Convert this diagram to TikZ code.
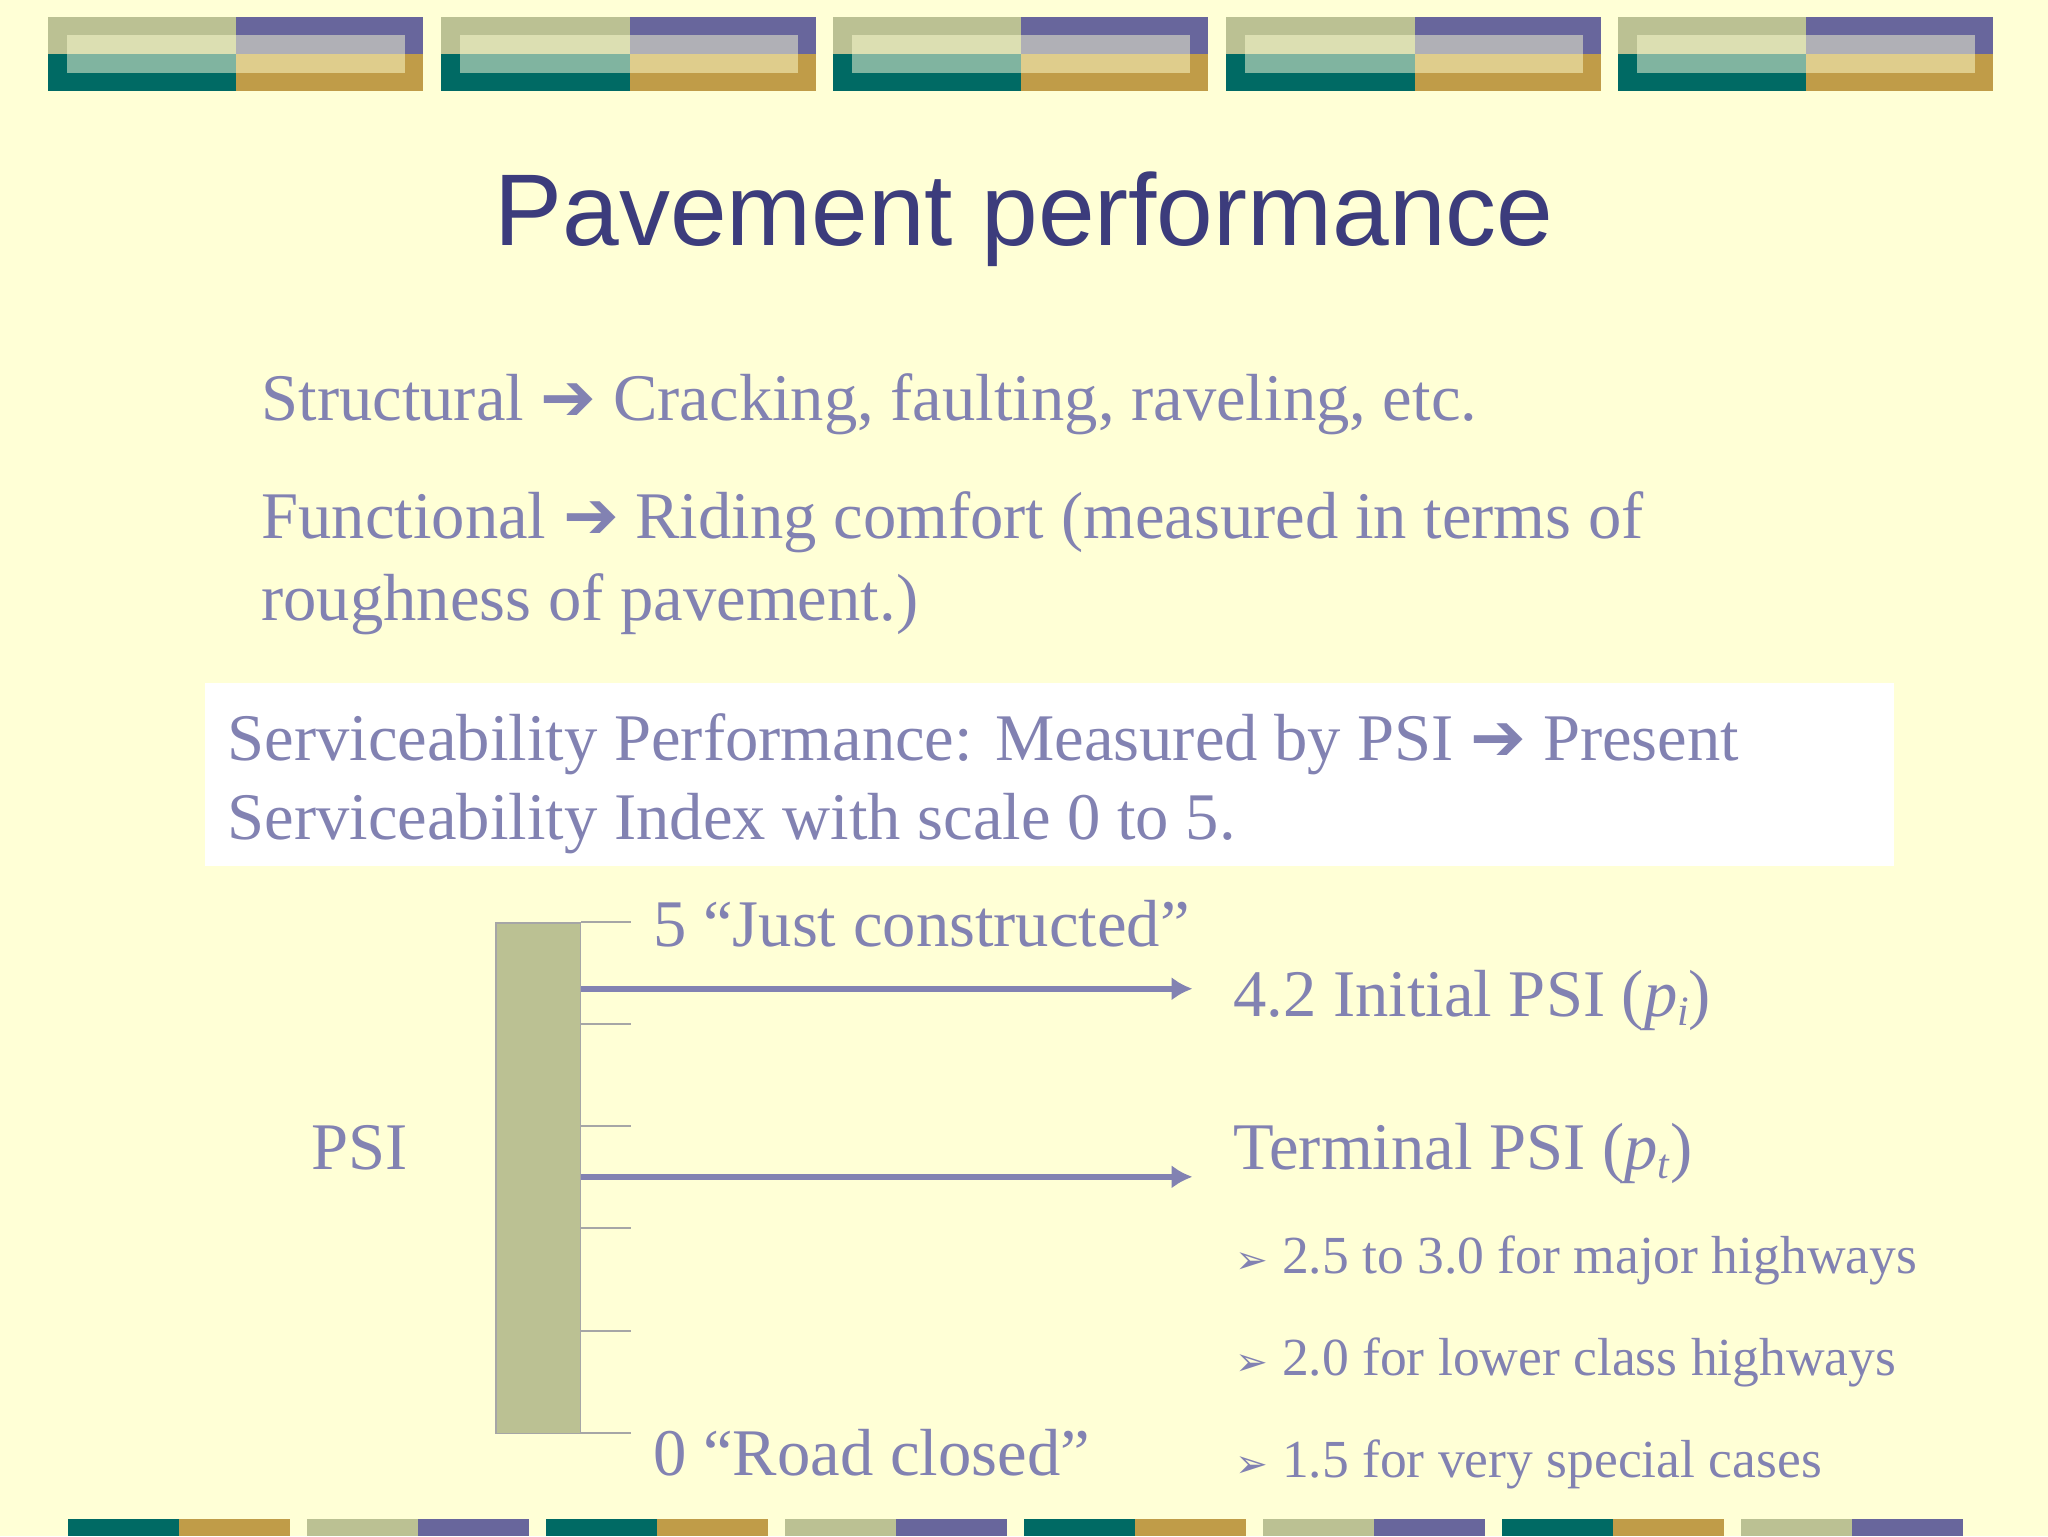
\documentclass[tikz,border=0pt]{standalone}
\usetikzlibrary{arrows.meta}
\usepackage{fontspec}
\setmainfont{Liberation Serif}
\newfontfamily\titlefont{Liberation Sans}
\newfontfamily\djfont{DejaVu Sans}
\begin{document}
\begin{tikzpicture}[x=1pt,y=-1pt]
\definecolor{bg}{HTML}{FFFFD6}
\definecolor{olv}{HTML}{BBC193}
\definecolor{pur}{HTML}{68669C}
\definecolor{tea}{HTML}{006A64}
\definecolor{gld}{HTML}{C09C48}
\definecolor{lolv}{HTML}{DCDFB2}
\definecolor{lgry}{HTML}{B0B0B6}
\definecolor{ltea}{HTML}{80B4A0}
\definecolor{lgld}{HTML}{DFCD8C}
\definecolor{txt}{HTML}{8282B2}
\definecolor{ttl}{HTML}{3C3C7C}
\tikzset{body/.style={anchor=base west,inner sep=0pt,text=txt,font=\fontsize{51}{60}\selectfont},
 small/.style={anchor=base west,inner sep=0pt,text=txt,font=\fontsize{41}{48}\selectfont},
 tick/.style={draw=gray!70,line width=1.2pt},
 arr/.style={draw=txt,line width=4.5pt,-{Latex[length=16pt,width=18pt]}}}
\fill[bg] (0,0) rectangle (1568,1176);
\useasboundingbox (0,0) rectangle (1568,1176);
\foreach \x in {37,338,638,939,1239}{
 \fill[olv] (\x,13) rectangle ++(144,28.5);
 \fill[pur] (\x+144,13) rectangle ++(143,28.5);
 \fill[tea] (\x,41.5) rectangle ++(144,28.5);
 \fill[gld] (\x+144,41.5) rectangle ++(143,28.5);
 \fill[lolv] (\x+14,27) rectangle (\x+144,41.5);
 \fill[lgry] (\x+144,27) rectangle (\x+273,41.5);
 \fill[ltea] (\x+14,41.5) rectangle (\x+144,56);
 \fill[lgld] (\x+144,41.5) rectangle (\x+273,56);
}
\foreach \x/\a/\b in {52/tea/gld,235/olv/pur,418/tea/gld,601/olv/pur,784/tea/gld,967/olv/pur,1150/tea/gld,1333/olv/pur}{
 \fill[\a] (\x,1163) rectangle ++(85,13);
 \fill[\b] (\x+85,1163) rectangle ++(85,13);
}
\node[anchor=base,inner sep=0pt,text=ttl,font=\titlefont\fontsize{78}{90}\selectfont] (title) at (784,188) {Pavement performance};
\node[body] (s1) at (200,322) {Structural {\djfont ➔} Cracking, faulting, raveling, etc.};
\node[body] (s2) at (200,412) {Functional {\djfont ➔} Riding comfort (measured in terms of};
\node[body] (s3) at (200,475) {roughness of pavement.)};
\fill[white] (157,523) rectangle (1450,663);
\node[body] (s4) at (174,582) {Serviceability Performance: Measured by PSI {\djfont ➔} Present};
\node[body] (s5) at (174,643) {Serviceability Index with scale 0 to 5.};
\node[draw=gray!70,line width=1.2pt,fill=olv,minimum width=65pt,minimum height=391pt,inner sep=0pt,anchor=north west] (bar) at (379,706) {};
\foreach \y/\n in {706/t0,784/t1,862/t2,940/t3,1019/t4,1097/t5}{
 \coordinate (\n) at (483,\y);
 \draw[tick] (bar.east |- \n) -- (\n);
}
\coordinate (e1) at (913,757);
\coordinate (e2) at (913,901);
\draw[arr] (bar.east |- e1) -- (e1);
\draw[arr] (bar.east |- e2) -- (e2);
\node[body] (psi) at (238,895) {PSI};
\node[body] (l5) at (500,725) {5 “Just constructed”};
\node[body] (l0) at (500,1130) {0 “Road closed”};
\node[body] (li) at (944,778) {4.2 Initial PSI (\textit{p}\raisebox{-0.3ex}{\fontsize{32}{36}\selectfont\textit{i}})};
\node[body] (lt) at (944,895) {Terminal PSI (\textit{p}\raisebox{-0.3ex}{\fontsize{32}{36}\selectfont\textit{t}})};
\node[small] (b1) at (946,975) {{\djfont\fontsize{30}{36}\selectfont ➢} 2.5 to 3.0 for major highways};
\node[small] (b2) at (946,1053) {{\djfont\fontsize{30}{36}\selectfont ➢} 2.0 for lower class highways};
\node[small] (b3) at (946,1131) {{\djfont\fontsize{30}{36}\selectfont ➢} 1.5 for very special cases};
\end{tikzpicture}
\end{document}
